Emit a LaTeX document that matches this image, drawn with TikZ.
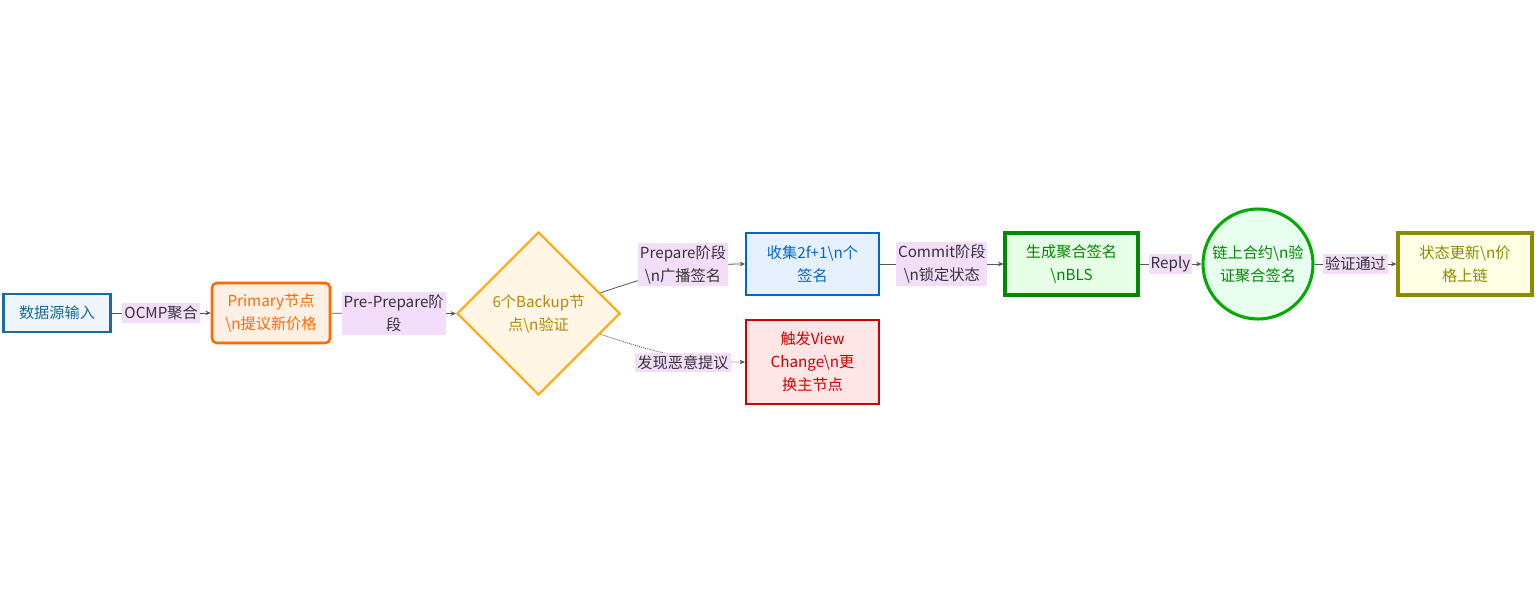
\documentclass[tikz,border=0pt]{standalone}
\usepackage{fontspec}
\setmainfont{Noto Sans CJK SC}
\usetikzlibrary{shapes.geometric,arrows.meta,calc}
\definecolor{cA}{HTML}{1A6AA0}\definecolor{fA}{HTML}{EEF6FC}
\definecolor{cB}{HTML}{FF6B00}\definecolor{fB}{HTML}{FFF0E5}
\definecolor{cC}{HTML}{FFAA11}\definecolor{fC}{HTML}{FFF6E5}\definecolor{tC}{HTML}{B8860B}
\definecolor{cD}{HTML}{0066CC}\definecolor{fD}{HTML}{E6F0FF}
\definecolor{cE}{HTML}{CC0000}\definecolor{fE}{HTML}{FFE6E6}
\definecolor{cF}{HTML}{008800}\definecolor{fF}{HTML}{E6FFE6}
\definecolor{cG}{HTML}{00AA00}\definecolor{fG}{HTML}{E8FFF0}
\definecolor{cH}{HTML}{8B8B00}\definecolor{fH}{HTML}{FFFFE6}
\definecolor{lblbg}{HTML}{F3DDFB}\definecolor{lbltx}{HTML}{333333}
\definecolor{edgec}{HTML}{555555}
\begin{document}
\begin{tikzpicture}[x=0.75pt,y=-0.75pt,
  every node/.style={font=\fontsize{11.4pt}{17.25pt}\selectfont, align=center},
  box/.style={draw, rectangle, inner sep=1pt},
  lbl/.style={fill=lblbg, text=lbltx, inner xsep=1.5pt, inner ysep=2pt},
  conn/.style={draw=edgec, line width=0.6pt, -{Stealth[length=4pt,width=3.5pt]}},
  dotconn/.style={conn, dash pattern=on 0.8pt off 0.8pt}]
\useasboundingbox (0,0) rectangle (1536,614);
\fill[white] (0,0) rectangle (1536,614);

\node[box, draw=cA, fill=fA, text=cA, line width=1.6pt, minimum width=80.25pt, minimum height=28.5pt] (n1) at (57,313) {数据源输入};
\node[box, draw=cB, fill=fB, text=cB, line width=1.9pt, rounded corners=3.5pt, minimum width=88.5pt, minimum height=45pt] (n2) at (271,313) {Primary节点\\\textbackslash n提议新价格};
\node[diamond, draw=cC, fill=fC, text=tC, line width=1.6pt, minimum width=122.25pt, minimum height=122.25pt, inner sep=0pt] (n3) at (538.5,313.5) {6个Backup节\\点\textbackslash n验证};
\node[box, draw=cD, fill=fD, text=cD, line width=1.6pt, minimum width=99.75pt, minimum height=46.5pt] (n4) at (812.5,264) {收集2f+1\textbackslash n个\\签名};
\node[box, draw=cE, fill=fE, text=cE, line width=1.6pt, minimum width=99.75pt, minimum height=63pt] (n5) at (812.5,362) {触发View\\Change\textbackslash n更\\换主节点};
\node[box, draw=cF, fill=fF, text=cF, line width=2.3pt, minimum width=99.75pt, minimum height=46.5pt] (n6) at (1071.5,264) {生成聚合签名\\\textbackslash nBLS};
\node[circle, draw=cG, fill=fG, text=cF, line width=2.3pt, minimum size=82.5pt, inner sep=0pt] (n7) at (1258,264) {链上合约\textbackslash n验\\证聚合签名};
\node[box, draw=cH, fill=fH, text=cH, line width=2.3pt, minimum width=100.5pt, minimum height=46.5pt] (n8) at (1465,264) {状态更新\textbackslash n价\\格上链};

\path[conn] (n1) -- (n2) node[lbl, midway] {OCMP聚合};
\path[conn] (n2) -- (n3.west) node[lbl, midway] {Pre-Prepare阶\\段};
\coordinate (d1) at ($(n3.east)!0.25!(n3.north)$);
\coordinate (d2) at ($(n3.east)!0.25!(n3.south)$);
\path[conn] (d1) .. controls (650,276) and (690,264) .. (n4.west);
\node[lbl] (l3) at (683,264.5) {Prepare阶段\\\textbackslash n广播签名};
\path[dotconn] (d2) .. controls (650,351) and (690,362) .. (n5.west);
\node[lbl] (l4) at (683,362.5) {发现恶意提议};
\path[conn] (n4) -- (n6) node[lbl, midway] {Commit阶段\\\textbackslash n锁定状态};
\path[conn] (n6) -- (n7) node[lbl, midway] {Reply};
\path[conn] (n7) -- (n8) node[lbl, midway] {验证通过};
\end{tikzpicture}
\end{document}
